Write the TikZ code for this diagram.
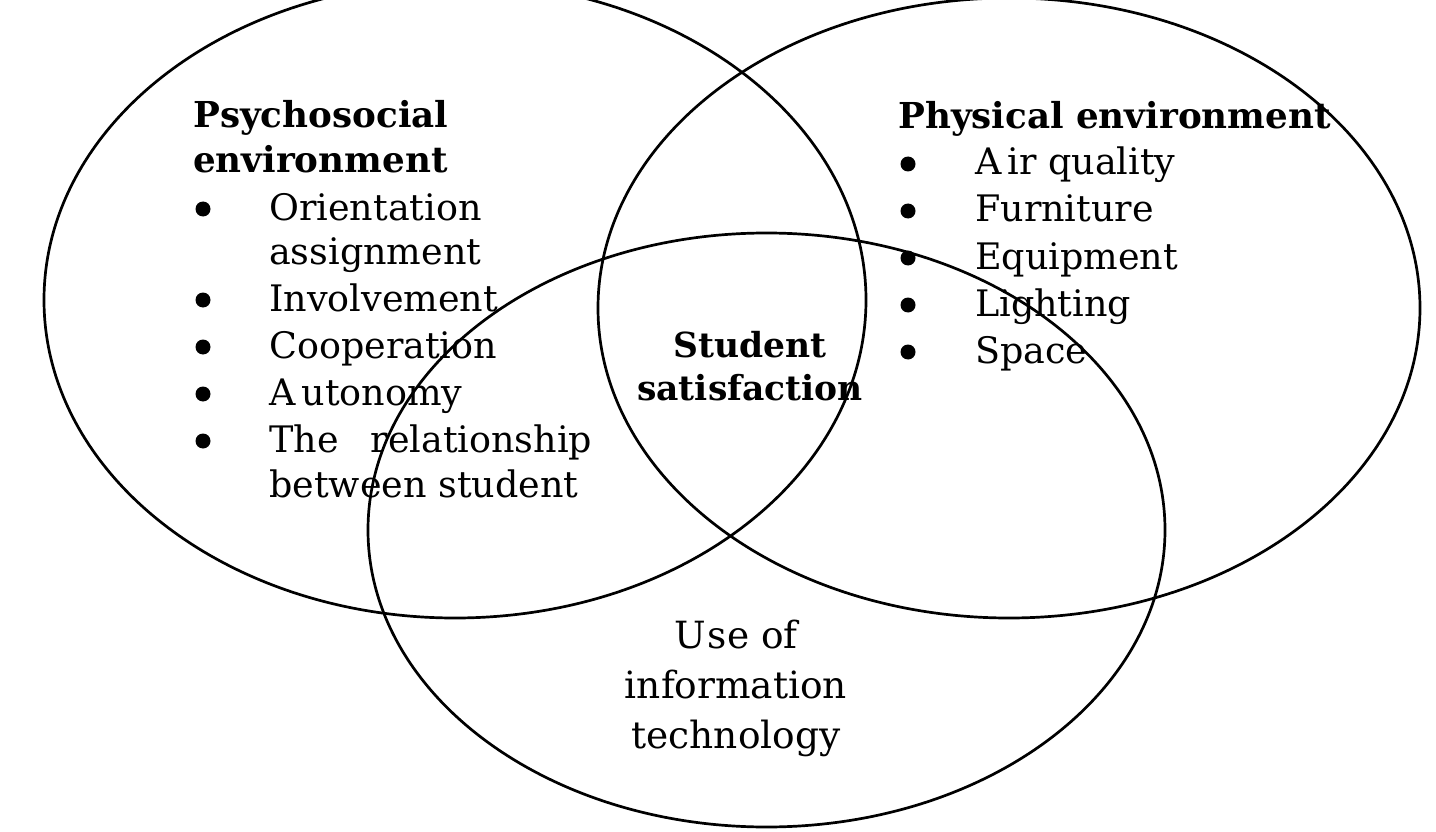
\documentclass[tikz,border=0pt]{standalone}
\usepackage{fontspec}
\setmainfont{DejaVu Serif}
\begin{document}
\begin{tikzpicture}[x=1pt,y=-1pt,
  ring/.style={draw=black,line width=2.7pt},
  txt/.style={inner sep=0pt,anchor=base west,font=\fontsize{36.5}{40}\selectfont},
  head/.style={inner sep=0pt,anchor=base west,font=\fontsize{35.7}{40}\selectfont\bfseries},
  ctr/.style={inner sep=0pt,anchor=base,font=\fontsize{37.5}{40}\selectfont},
  ctrb/.style={inner sep=0pt,anchor=base,font=\fontsize{34.5}{40}\selectfont\bfseries},
  dot/.style={circle,fill=black,draw=none,inner sep=0pt,minimum size=15pt}]
\useasboundingbox (0,0) rectangle (1436,832);
\fill[white] (0,0) rectangle (1436,832);
% circles
\draw[ring] (455,300) ellipse [x radius=411pt, y radius=318pt];
\draw[ring] (1009,308) ellipse [x radius=411pt, y radius=310pt];
\draw[ring] (766.5,530) ellipse [x radius=398.5pt, y radius=297pt];
% left block
\node[head] (ph1) at (193,128) {Psychosocial};
\node[head] (ph2) at (193,172) {environment};
\node[dot] (pb1) at (203,209) {};
\node[txt] (pt1) at (269,220) {Orientation};
\node[txt] (pt1b) at (269,264) {assignment};
\node[dot] (pb2) at (203,300) {};
\node[txt] (pt2) at (269,311) {Involvement};
\node[dot] (pb3) at (203,347) {};
\node[txt] (pt3) at (269,358) {Cooperation};
\node[dot] (pb4) at (203,394) {};
\node[txt] (pt4) at (269,405) {A\kern6pt utonomy};
\node[dot] (pb5) at (203,441) {};
\node[txt] (pt5) at (269,452) {The\hspace{32pt}relationship};
\node[txt] (pt5b) at (269,497) {between student};
% right block
\node[head] (rh) at (898,129) {Physical environment};
\node[dot] (rb1) at (908,164) {};
\node[txt] (rt1) at (975,175) {A\kern6pt ir quality};
\node[dot] (rb2) at (908,211) {};
\node[txt] (rt2) at (975,222) {Furniture};
\node[dot] (rb3) at (908,258) {};
\node[txt] (rt3) at (975,269) {Equipment};
\node[dot] (rb4) at (908,305) {};
\node[txt] (rt4) at (975,316) {Lighting};
\node[dot] (rb5) at (908,352) {};
\node[txt] (rt5) at (975,363) {Space};
% centre
\node[ctrb] (s1) at (750,357) {Student};
\node[ctrb] (s2) at (750,400) {satisfaction};
% bottom
\node[ctr] (u1) at (736,648) {U\kern2pt se of};
\node[ctr] (u2) at (736,698) {information};
\node[ctr] (u3) at (736,748) {technology};
\end{tikzpicture}
\end{document}
